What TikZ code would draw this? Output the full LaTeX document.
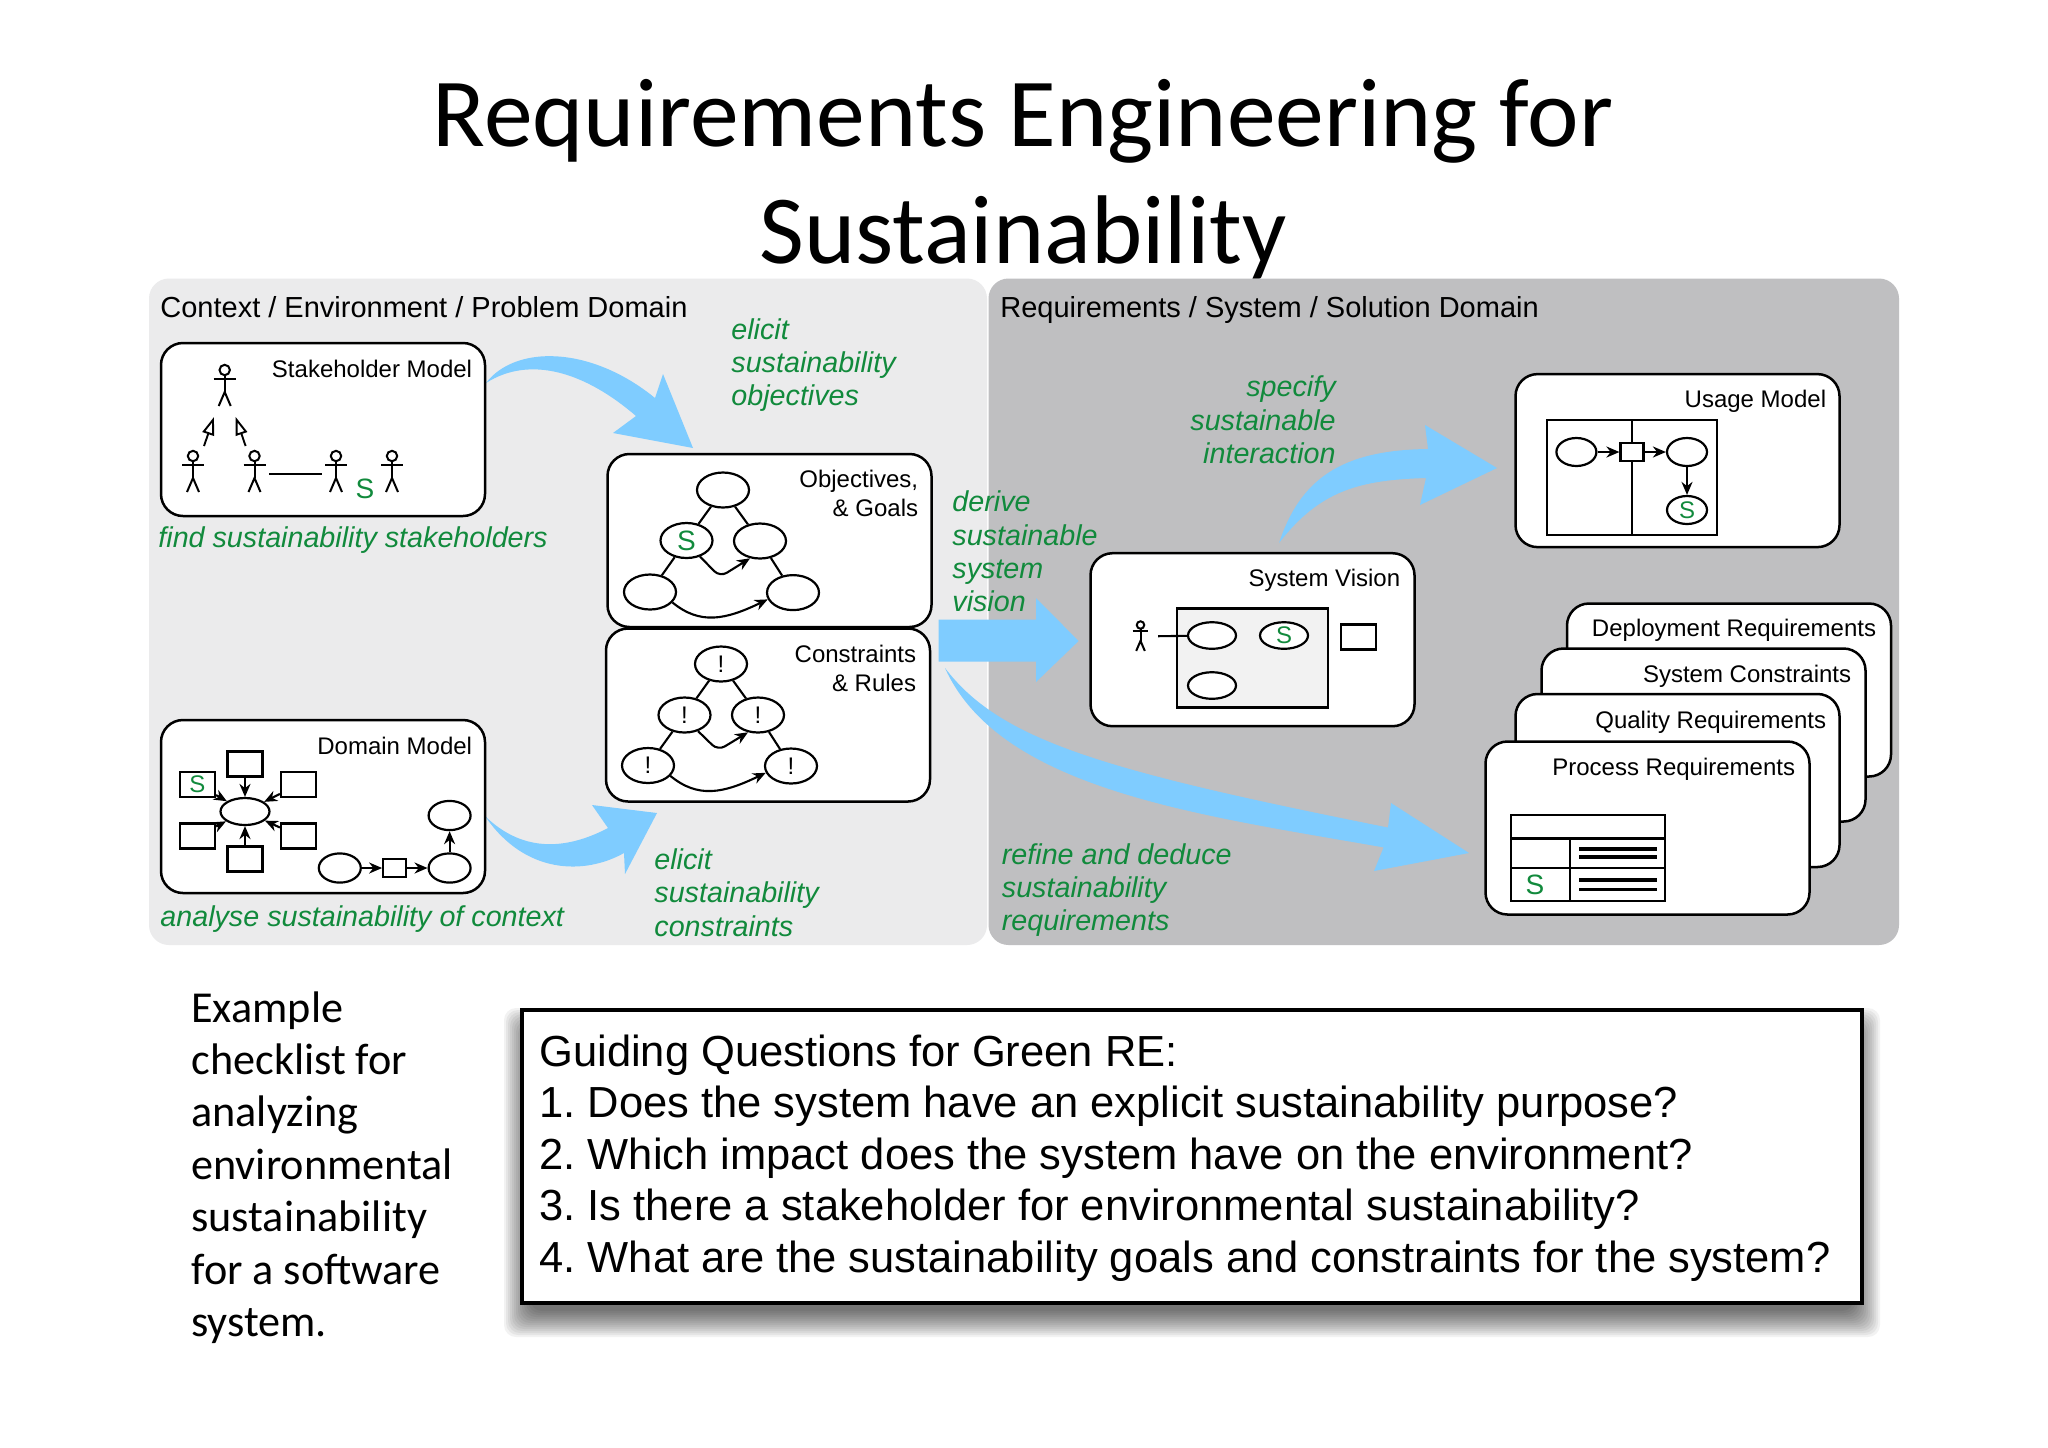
\documentclass[tikz,border=0pt]{standalone}
\usepackage{fontspec}
\setmainfont{Liberation Sans}
\newfontfamily\calfont{Carlito}
\usetikzlibrary{arrows.meta,shapes.geometric,positioning}
\definecolor{grn}{HTML}{118A3C}
\definecolor{skyb}{HTML}{7FCCFF}
\definecolor{panL}{HTML}{EBEBEC}
\definecolor{panR}{HTML}{BFBFC1}
\tikzset{
  x=0.5pt,y=-0.5pt,
  panel/.style={rounded corners=10pt},
  mbox/.style={draw=black,fill=white,line width=1.25pt,rounded corners=11pt,minimum width=162pt,minimum height=86.5pt,inner sep=0pt},
  lbl/.style={anchor=east,inner sep=0pt,align=right,font=\fontsize{12}{14.5}\selectfont},
  head/.style={anchor=base west,inner sep=0pt,font=\fontsize{14.5}{17}\selectfont},
  gtxtl/.style={anchor=west,inner sep=0pt,align=left,text=grn,font=\fontsize{14.35}{16.7}\selectfont\itshape},
  gtxtr/.style={anchor=east,inner sep=0pt,align=right,text=grn,font=\fontsize{14.35}{16.7}\selectfont\itshape},
  bigarrow/.style={fill=skyb,draw=none},
  elb/.style={draw=black,fill=white,ellipse,line width=1.1pt,inner sep=0pt,minimum width=26pt,minimum height=17.5pt,font=\fontsize{12}{12}\selectfont},
  els/.style={elb,minimum width=24pt,minimum height=14pt},
  elt/.style={elb,minimum width=21pt,minimum height=14.6pt},
  sq/.style={draw=black,fill=white,line width=1.1pt,inner sep=0pt,minimum width=17.5pt,minimum height=12.5pt},
  ssq/.style={draw=black,fill=white,line width=1.1pt,inner sep=0pt,minimum width=11.5pt,minimum height=9pt},
  conn/.style={line width=1.05pt},
  darr/.style={conn,-{Stealth[length=6.5pt,width=5.5pt]}},
  opa/.style={line width=.95pt,-{Triangle[open,length=9pt,width=6pt,fill=white]}},
  bar/.style={line width=1.9pt},
  sman/.style={line width=1pt},
  stickman/.pic={
    \draw[sman] (0,0) circle[radius=5.2];
    \draw[sman] (0,5.2) -- (0,22);
    \draw[sman] (-11,9) -- (11,9);
    \draw[sman] (-6,36) -- (0,22) -- (6,36);
  }
}
\newcommand{\numkern}{\hspace{-2pt}}
\begin{document}
\begin{tikzpicture}
\useasboundingbox (0,0) rectangle (2048,1447);
\fill[white] (0,0) rectangle (2048,1447);
% title
\node[anchor=base,inner sep=0pt,font=\calfont\fontsize{48.8}{50}\selectfont] (t1) at (1023,146.5) {Requirements Engineering for};
\node[anchor=base,inner sep=0pt,font=\calfont\fontsize{48.8}{50}\selectfont] (t2) at (1023,263.5) {Sustainability};
% panels
\fill[panel,panL] (149,278.5) rectangle (987,945);
\fill[panel,panR] (988.5,278.5) rectangle (1899,945);
\node[head] (hl) at (160,317.5) {Context / Environment / Problem Domain};
\node[head] (hr) at (1000,317.5) {Requirements / System / Solution Domain};
% big arrows
\fill[bigarrow] (486,383) .. controls (515,345) and (590,345) .. (655,398) -- (663,374) -- (693,448) -- (613,433) -- (636,416) .. controls (585,372) and (530,355) .. (486,383) -- cycle;
\fill[bigarrow] (485,816) .. controls (525,875) and (585,875) .. (624,853) -- (625,874) -- (657,813) -- (592,805) -- (608,828) .. controls (570,848) and (525,855) .. (485,816) -- cycle;
\fill[bigarrow] (938.6,619.5) -- (1036,619.5) -- (1036,598) -- (1078.6,641) -- (1036,682) -- (1036,661.6) -- (938.6,661.6) -- cycle;
\fill[bigarrow] (1279,543) .. controls (1300,480) and (1340,450) .. (1428,449) -- (1425,425) -- (1497,468) -- (1420,505) -- (1426,478) .. controls (1360,480) and (1320,490) .. (1279,543) -- cycle;
\fill[bigarrow] (945,668) .. controls (1000,740) and (1100,770) .. (1388,827.5) -- (1391,803) -- (1469,853) -- (1374,871) -- (1383.6,847.4) .. controls (1200,815) and (1000,790) .. (945,668) -- cycle;
% boxes
\node[mbox] (stake) at (323,429.5) {};
\node[mbox] (obj) at (769.5,540.5) {};
\node[mbox] (cons) at (768,715) {};
\node[mbox] (dom) at (323,806.5) {};
\node[mbox] (vis) at (1252.5,639.7) {};
\node[mbox] (usage) at (1677.5,460.6) {};
\node[mbox] (depl) at (1729,690) {};
\node[mbox] (sysc) at (1703.5,735) {};
\node[mbox] (qual) at (1677.5,780.5) {};
\node[mbox] (proc) at (1647.5,828) {};
% box labels
\node[lbl] at (472.5,369) {Stakeholder Model};
\node[lbl] at (918.5,493.5) {Objectives,\\\& Goals};
\node[lbl] at (916.5,668) {Constraints\\\& Rules};
\node[lbl] at (472.5,746) {Domain Model};
\node[lbl] at (1400.5,580.5) {System Vision};
\node[lbl] at (1826.5,401.5) {Usage Model};
\node[lbl] at (1876.5,630.6) {Deployment Requirements};
\node[lbl] at (1851.5,676.5) {System Constraints};
\node[lbl] at (1826.5,722.5) {Quality Requirements};
\node[lbl] at (1795.5,769.5) {Process Requirements};
% green labels
\node[gtxtl] at (731,365) {elicit\\sustainability\\objectives};
\node[gtxtl] at (952,551.5) {derive\\sustainable\\system\\vision};
\node[gtxtr] at (1336,420) {specify\\sustainable\\interaction};
\node[gtxtl] at (1001.5,890) {refine and deduce\\sustainability\\requirements};
\node[gtxtl] at (654,892.5) {elicit\\sustainability\\constraints};
\node[gtxtl] at (158,540.5) {find sustainability stakeholders};
\node[gtxtl] at (160,919) {analyse sustainability of context};
% stakeholder model
\pic at (224.7,370) {stickman};
\pic (s1) at (193,456) {stickman};
\pic (s2) at (254.5,456) {stickman};
\pic (s3) at (336,456) {stickman};
\pic (s4) at (392,456) {stickman};
\coordinate (a1s) at (204,446); \coordinate (a1e) at (214,417);
\coordinate (a2s) at (245.6,446); \coordinate (a2e) at (235.7,417);
\draw[opa] (a1s) -- (a1e);
\draw[opa] (a2s) -- (a2e);
\coordinate (assocA) at (269,474); \coordinate (assocB) at (321.5,474);
\draw[conn] (assocA) -- (assocB);
\node[inner sep=0pt,text=grn,font=\fontsize{14}{14}\selectfont] (sS) at (365,489) {S};
% objectives
\node[elb] (o1) at (723,490) {};
\node[elb,text=grn,font=\fontsize{14}{14}\selectfont] (o2) at (686.5,540.5) {S};
\node[elb] (o3) at (760,541) {};
\node[elb] (o4) at (650,592) {};
\node[elb] (o5) at (793,592.6) {};
\draw[conn] (o1) -- (o2); \draw[conn] (o1) -- (o3);
\draw[conn] (o2) -- (o4); \draw[conn] (o3) -- (o5);
\coordinate (ob1) at (720,577);
\draw[darr,rounded corners=4pt] (o2.-50) -- (ob1) -- (o3.-120);
\coordinate (oc1) at (700,625); \coordinate (oc2) at (725,620);
\draw[darr] (o4.-25) .. controls (oc1) and (oc2) .. (o5.-165);
% constraints
\node[elb] (c1) at (721,664) {!};
\node[elb] (c2) at (684.5,715) {!};
\node[elb] (c3) at (758,715) {!};
\node[elb] (c4) at (648,765.5) {!};
\node[elb] (c5) at (791,766) {!};
\draw[conn] (c1) -- (c2); \draw[conn] (c1) -- (c3);
\draw[conn] (c2) -- (c4); \draw[conn] (c3) -- (c5);
\coordinate (cb1) at (718,750.5);
\draw[darr,rounded corners=4pt] (c2.-50) -- (cb1) -- (c3.-120);
\coordinate (cc1) at (698,798.5); \coordinate (cc2) at (723,793.5);
\draw[darr] (c4.-25) .. controls (cc1) and (cc2) .. (c5.-165);
% domain model
\node[els,minimum width=24.5pt,minimum height=13.5pt] (dc) at (245,811.5) {};
\node[sq,text=grn,font=\fontsize{12}{12}\selectfont] (d1) at (197.5,784.5) {S};
\node[sq] (d2) at (245,764) {};
\node[sq] (d3) at (298.5,784.5) {};
\node[sq] (d4) at (197.5,836) {};
\node[sq] (d5) at (245,859) {};
\node[sq] (d6) at (298.5,836) {};
\foreach \k in {1,...,6} \draw[darr] (d\k) -- (dc);
\node[elt] (e1) at (449.6,815.5) {};
\node[elt] (e2) at (449.6,868) {};
\node[elt] (e3) at (339.8,868) {};
\node[ssq] (e4) at (394.7,868) {};
\draw[darr] (e2) -- (e1);
\draw[darr] (e3) -- (e4);
\draw[darr] (e4) -- (e2);
% usage model
\coordinate (u1) at (1547,419.6); \coordinate (u2) at (1717,535);
\coordinate (u3) at (1632,419.6); \coordinate (u4) at (1632,535);
\draw[line width=1.1pt,fill=white] (u1) rectangle (u2);
\draw[line width=1.1pt] (u3) -- (u4);
\node[elb,minimum width=20pt,minimum height=14pt] (ua) at (1576.4,452) {};
\node[ssq] (ub) at (1632,452) {};
\node[elb,minimum width=20pt,minimum height=14pt] (uc) at (1687,452) {};
\node[elb,minimum width=20pt,minimum height=14pt,text=grn] (ud) at (1687,510) {S};
\draw[darr] (ua) -- (ub); \draw[darr] (ub) -- (uc); \draw[darr] (uc) -- (ud);
% system vision
\coordinate (v1) at (1176.6,608.5); \coordinate (v2) at (1328,707.5);
\draw[line width=1.1pt,fill=black!5] (v1) rectangle (v2);
\node[els,minimum height=13.3pt] (va) at (1212,635.5) {};
\node[els,minimum height=13.3pt,text=grn] (vb) at (1284,635.5) {S};
\node[els,minimum height=13.3pt] (vc) at (1212,685.5) {};
\node[sq,minimum width=17.5pt,minimum height=12.5pt] (vd) at (1358.5,637) {};
\pic[scale=.72] at (1140.5,625) {stickman};
\coordinate (vl) at (1158,636.2);
\draw[conn] (vl) -- (va);
% process table
\coordinate (p1) at (1511,815); \coordinate (p2) at (1665,901);
\coordinate (p3) at (1511,838.4); \coordinate (p4) at (1665,838.4);
\coordinate (p5) at (1511,867.6); \coordinate (p6) at (1665,867.6);
\coordinate (p7) at (1570,838.4); \coordinate (p8) at (1570,901);
\draw[line width=1.1pt] (p1) rectangle (p2);
\draw[line width=1.1pt] (p3) -- (p4);
\draw[line width=1.1pt] (p5) -- (p6);
\draw[line width=1.1pt] (p7) -- (p8);
\foreach \yy in {849,857,880,889.5} \draw[bar] (1579,\yy) -- (1657,\yy);
\node[inner sep=0pt,text=grn,font=\fontsize{14}{14}\selectfont] at (1535,885) {S};
% left text
\node[anchor=north west,inner sep=0pt,align=left,font=\calfont\fontsize{22.1}{26.2}\selectfont] (ex) at (191,991) {Example\\checklist for\\analyzing\\environmental\\sustainability\\for a software\\system.};
% shadow
\foreach \r in {18,16,...,-8}
  \fill[black,opacity=.05,rounded corners=6pt] (522-\r,1026-\r) rectangle (1862+\r,1319+\r);
% guide box
\node[draw=black,fill=white,line width=1.8pt,minimum width=670pt,minimum height=146.5pt,inner sep=0pt] (gq) at (1192,1156.5) {};
\node[anchor=west,inner sep=0pt,align=left,font=\fontsize{21.75}{25.7}\selectfont] (gt) at (539,1158) {Guiding Questions for Green RE:\\1.\numkern{} Does the system have an explicit sustainability purpose?\\2.\numkern{} Which impact does the system have on the environment?\\3.\numkern{} Is there a stakeholder for environmental sustainability?\\4.\numkern{} What are the sustainability goals and constraints for the system?};
\end{tikzpicture}
\end{document}
